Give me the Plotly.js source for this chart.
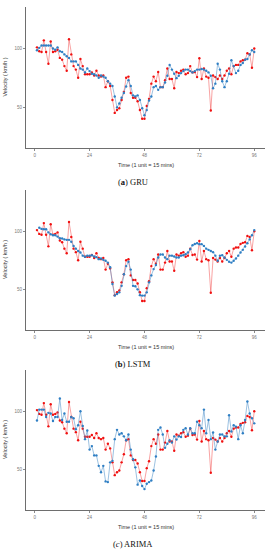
<!DOCTYPE html>
<html>
<head>
<meta charset="utf-8">
<script src="https://cdn.plot.ly/plotly-3.0.1.min.js"></script>
<style>html,body{margin:0;padding:0;background:#fff;}#chart{width:272px;height:550px;}</style>
</head>
<body>
<div id="chart"></div>
<script>
// time steps (1 unit = 15 mins)
const timeSteps = Array.from({length: 96}, (_, i) => i + 1);

// observed velocity (red), same in every panel
const actual = [101, 97.7, 97, 107, 97, 87, 106, 97, 97.7, 99, 92, 90.5, 85, 81, 108, 95, 85, 82, 75, 91,
  85, 78, 78, 78, 79.6, 77, 81, 77, 76, 77, 67, 72, 68, 56, 45, 47.5, 49, 56, 63, 75,
  76, 62, 58, 58, 55, 47.5, 40, 40, 51, 57, 70, 76, 72, 80, 67, 67, 73, 83, 74, 74,
  66, 80, 79, 81, 82, 78, 79, 85, 79.6, 80, 75.6, 91.7, 74, 83, 76, 75, 47, 77, 75.6, 74,
  77, 74, 77, 81, 83, 78, 85, 86, 86, 89, 90, 90.5, 96, 95, 83.6, 100];

// GRU prediction (blue)
const gruPred = [98.6, 100.6, 102.6, 102.6, 102.6, 102.6, 102.6, 100, 99, 101, 97.7, 97, 95, 93.4, 92, 89, 89, 89, 86, 83,
  82, 79.6, 83, 80.7, 78.4, 78, 77, 75, 77, 76, 75, 72, 70, 68, 59, 49.7, 53, 58, 62, 67.5,
  73, 68, 60, 59, 60, 56, 49, 43, 47.4, 55.5, 59, 67, 68, 64.7, 67, 67, 71, 76.7, 86, 82,
  78.4, 74.7, 76.7, 79, 80.7, 82, 82, 80.7, 79.6, 80.7, 82, 82, 82.5, 82, 81, 79.6, 76.7, 66, 70, 87,
  82, 72, 67, 72, 78.4, 90, 85, 79, 81, 86, 87.6, 90.5, 91, 95, 98.6, 97];

// LSTM prediction (blue)
const lstmPred = [null, 103, 102, 101.7, 101.7, 99, 97.4, 96.6, 96.6, 95.4, 94, 93.7, 93, 92.6, 92.6, 91, 87.4, 85, 83, 81.7,
  79, 78, 79, 79, 79.4, 78.3, 77.7, 76, 76.6, 75.4, 74.6, 73, 69, 54.6, 44.6, 46, 47.4, 53, 63, 70,
  73.7, 67, 53, 52.6, 50, 45, 44.6, 44.6, 47.4, 56, 62, 67.4, 71, 77.4, 80, 80, 77.4, 76, 79, 79,
  78.3, 77.4, 77.4, 79, 79.4, 80.3, 81.7, 84.6, 88, 89, 89.7, 88.9, 88.9, 87.4, 85, 84, 83, 82, 79, 74.6,
  79, 79.4, 77.4, 75.4, 73.7, 73, 74.6, 76.6, 79, 81.7, 84, 86.9, 89.7, 93, 96.6, 101];

// ARIMA prediction (blue)
const arimaPred = [92, 101.4, 101.4, 101.4, 95, 98.6, 98, 91.6, 95, 95, 111, 92.4, 98, 91, 91, 95, 94, 84.5, 88, 100,
  87.4, 76, 83.4, 67, 70, 62, 62, 53, 47.5, 53, 39.6, 39, 56, 57.3, 76, 84, 80, 81, 78.4, 75,
  80, 67, 58.7, 51.7, 36.8, 40.4, 35.7, 33, 37.6, 39, 40.4, 49, 61, 84, 86, 80, 68.5, 72, 75, 73,
  78.4, 75.6, 78.4, 77.8, 84, 85.4, 80, 85.4, 81, 81, 91, 88, 85.4, 101.4, 81, 92.4, 76, 81.7, 67, 74,
  80, 80, 78.4, 78.4, 96.6, 82.6, 88, 86.8, 76, 88, 81, 92.4, 108.4, 98, 94, 89.6];

const xTicks = [0, 24, 48, 72, 96];
const yTicks = [50, 100];
const captions = ['(<b>a</b>) GRU', '(<b>b</b>) LSTM', '(<i>c</i>) ARIMA'];
const xTitle = 'Time (1 unit = 15 mins)';
const yTitle = 'Velocity ( km/h )';

const preds = [gruPred, lstmPred, arimaPred];
const RED = '#f01010', RED_LINE = 'rgba(240,50,50,0.5)';
const BLUE = '#2f7fc4', BLUE_LINE = 'rgba(70,140,200,0.6)';

const traces = [];
preds.forEach((p, i) => {
  const sfx = i === 0 ? '' : String(i + 1);
  traces.push({x: timeSteps, y: actual, type: 'scatter', mode: 'lines+markers',
    xaxis: 'x' + sfx, yaxis: 'y' + sfx, showlegend: false, hoverinfo: 'skip',
    line: {color: RED_LINE, width: 0.9}, marker: {color: RED, size: 2.4}});
  traces.push({x: timeSteps, y: p, type: 'scatter', mode: 'lines+markers',
    xaxis: 'x' + sfx, yaxis: 'y' + sfx, showlegend: false, hoverinfo: 'skip',
    line: {color: BLUE_LINE, width: 0.9}, marker: {color: BLUE, size: 2.4}});
});

// pixel geometry of panels
const W = 272, H = 550;
const panels = [{top: 7, bot: 148}, {top: 190, bot: 330}, {top: 370, bot: 510}];
const xDom = [26 / W, 265 / W];
const py = v => 1 - v / H;

const layout = {
  width: W, height: H,
  margin: {l: 0, r: 0, t: 0, b: 0},
  paper_bgcolor: '#fff', plot_bgcolor: '#fff',
  font: {family: 'Liberation Sans, Arial, sans-serif', color: '#555'},
  annotations: []
};

const axBase = {
  showgrid: false, zeroline: false, showline: true, linecolor: '#6e6e6e', linewidth: 1.2,
  ticks: 'outside', ticklen: 2, tickwidth: 0.8, tickcolor: '#6e6e6e',
  tickfont: {size: 4.5, color: '#777'}, fixedrange: true
};

panels.forEach((pn, i) => {
  const sfx = i === 0 ? '' : String(i + 1);
  layout['xaxis' + sfx] = Object.assign({}, axBase, {
    domain: xDom, anchor: 'y' + sfx, range: [-3.8, 100.7],
    tickmode: 'array', tickvals: xTicks, ticktext: xTicks.map(String)
  });
  layout['yaxis' + sfx] = Object.assign({}, axBase, {
    domain: [py(pn.bot), py(pn.top)], anchor: 'x' + sfx, range: [15, 135.5],
    tickmode: 'array', tickvals: yTicks, ticktext: yTicks.map(String)
  });
  layout.annotations.push({
    text: xTitle, xref: 'paper', yref: 'paper', x: (xDom[0] + xDom[1]) / 2, y: py(pn.bot + 17),
    showarrow: false, xanchor: 'center', yanchor: 'middle', font: {size: 5.5, color: '#333'}
  });
  layout.annotations.push({
    text: yTitle, xref: 'paper', yref: 'paper', x: 5 / W, y: py((pn.top + pn.bot) / 2),
    showarrow: false, textangle: -90, xanchor: 'center', yanchor: 'middle', font: {size: 5.5, color: '#333'}
  });
  layout.annotations.push({
    text: captions[i], xref: 'paper', yref: 'paper', x: 0.49, y: py(pn.bot + 34),
    showarrow: false, xanchor: 'center', yanchor: 'middle',
    font: {size: 8.5, color: '#111', family: 'Liberation Serif, Times New Roman, serif'}
  });
});

Plotly.newPlot('chart', traces, layout, {displayModeBar: false, staticPlot: true});
</script>
</body>
</html>
